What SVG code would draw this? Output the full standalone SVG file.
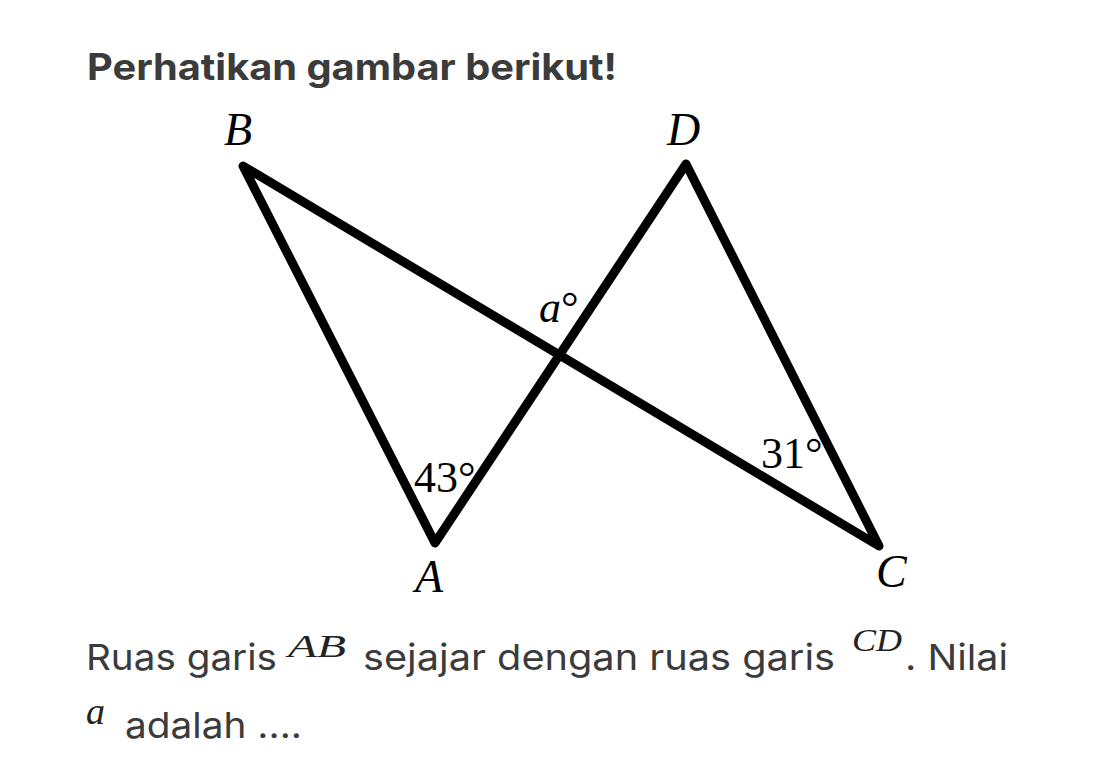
<svg xmlns="http://www.w3.org/2000/svg" width="1111" height="771" viewBox="0 0 1111 771">
<style>
.title{font-family:Inter,"Noto Sans",sans-serif;font-weight:700;font-size:37px;fill:#3b3b3b}
.body{font-family:Inter,"Noto Sans",sans-serif;font-size:36px;fill:#3b3b3b}
.m{font-family:"Liberation Serif",serif;font-style:italic;fill:#000}
.n{font-family:"Liberation Serif",serif;fill:#000}
.mi{font-family:"Liberation Serif",serif;font-style:italic;fill:#222}
.edge{fill:none;stroke:#000;stroke-width:9;stroke-linejoin:round;stroke-linecap:round}
</style>
<rect width="1111" height="771" fill="#fff"/>
<text class="title" x="87" y="80" textLength="530" lengthAdjust="spacingAndGlyphs">Perhatikan gambar berikut!</text>
<g id="connectors">
<polygon class="edge" points="243,166 435,543 686,164 879,546"/>
</g>
<g id="node-B"><text class="m" x="224" y="145" font-size="46">B</text></g>
<g id="node-D"><text class="m" x="667" y="145" font-size="46">D</text></g>
<g id="node-A"><text class="m" x="415" y="592" font-size="46">A</text></g>
<g id="node-C"><text class="m" x="876" y="587" font-size="46">C</text></g>
<g id="label-a"><text x="539" y="322" font-size="44"><tspan class="m">a</tspan><tspan class="n">°</tspan></text></g>
<g id="label-43"><text class="n" x="414" y="492" font-size="44">43°</text></g>
<g id="label-31"><text class="n" x="761" y="468" font-size="44">31°</text></g>
<text class="body" x="86" y="670" textLength="191" lengthAdjust="spacingAndGlyphs">Ruas garis</text>
<text class="mi" x="288" y="657" font-size="32" textLength="58" lengthAdjust="spacingAndGlyphs">AB</text>
<text class="body" x="363" y="670" textLength="472" lengthAdjust="spacingAndGlyphs">sejajar dengan ruas garis</text>
<text class="mi" x="852" y="651" font-size="32" textLength="50" lengthAdjust="spacingAndGlyphs">CD</text>
<text class="body" x="905" y="670" textLength="103" lengthAdjust="spacingAndGlyphs">. Nilai</text>
<text class="mi" x="86" y="724" font-size="38">a</text>
<text class="body" x="125" y="738" textLength="177" lengthAdjust="spacingAndGlyphs">adalah ....</text>
</svg>
